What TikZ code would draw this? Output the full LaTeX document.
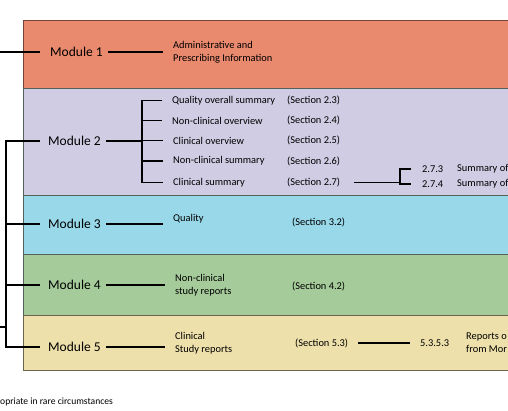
\documentclass[tikz,border=0pt]{standalone}
\usepackage{fontspec}
\setmainfont{Carlito}
\usetikzlibrary{positioning,calc}
\definecolor{bandorange}{HTML}{E9896E}
\definecolor{bandlilac}{HTML}{CFCCE3}
\definecolor{bandblue}{HTML}{98D8E9}
\definecolor{bandgreen}{HTML}{A5CB9A}
\definecolor{bandsand}{HTML}{EEE0AB}
\definecolor{edgegray}{HTML}{56605A}

\begin{document}
\begin{tikzpicture}[x=1pt, y=-1pt,
  modtext/.style={font=\fontsize{13.5}{16}\selectfont, anchor=west, inner sep=0pt},
  subtext/.style={font=\fontsize{10.4}{13}\selectfont, anchor=west, align=left, inner sep=0pt},
  link/.style={line width=1.05pt, black}]
\useasboundingbox (0,0) rectangle (508,411);
\clip (0,0) rectangle (508,411);
% module bands
\filldraw[fill=bandorange, draw=bandorange!50!black] (23,20) rectangle (515,88);
\filldraw[fill=bandlilac, draw=edgegray] (23,88) rectangle (515,195);
\filldraw[fill=bandblue, draw=edgegray] (23,195) rectangle (515,254);
\filldraw[fill=bandgreen, draw=edgegray] (23,254) rectangle (515,315);
\filldraw[fill=bandsand, draw=bandsand!45!black] (23,315) rectangle (515,370);
% module names
\node[modtext] (m1) at (50,52) {Module 1};
\node[modtext] (m2) at (48,141) {Module 2};
\node[modtext] (m3) at (48,224) {Module 3};
\node[modtext] (m4) at (48,285) {Module 4};
\node[modtext] (m5) at (48,347) {Module 5};
% contents
\node[subtext] (t1) at (173,52) {Administrative and\\Prescribing Information};
\node[subtext] (q1) at (172,100.5) {Quality overall summary};
\node[subtext] (q2) at (172,120.5) {Non-clinical overview};
\node[subtext] (q3) at (173,140.5) {Clinical overview};
\node[subtext] (q4) at (173,161) {Non-clinical summary};
\node[subtext] (q5) at (173,182.5) {Clinical summary};
\node[subtext] (sec23) at (287,100.5) {(Section 2.3)};
\node[subtext] (sec24) at (287,120.5) {(Section 2.4)};
\node[subtext] (sec25) at (287,140.5) {(Section 2.5)};
\node[subtext] (sec26) at (287,161) {(Section 2.6)};
\node[subtext] (sec27) at (287,182.5) {(Section 2.7)};
\node[subtext] (u1) at (422,169) {2.7.3};
\node[subtext] (u2) at (422,184) {2.7.4};
\node[subtext] (v1) at (457,169) {Summary of};
\node[subtext] (v2) at (457,184) {Summary of};
\node[subtext] (t3) at (173,219) {Quality};
\node[subtext] (sec32) at (292,222) {(Section 3.2)};
\node[subtext] (t4) at (175,285.5) {Non-clinical\\study reports};
\node[subtext] (sec42) at (292,286) {(Section 4.2)};
\node[subtext] (t5) at (175,343.5) {Clinical\\Study reports};
\node[subtext] (sec53) at (295,343) {(Section 5.3)};
\node[subtext] (w1) at (420,343) {5.3.5.3};
\node[subtext] (w2) at (466,343) {Reports o\\from Mor};
\node[font=\fontsize{9.6}{11}\selectfont, anchor=west, inner sep=0pt] (note) at (0,402) {opriate in rare circumstances};
% connectors on the left
\coordinate (trunk) at (6,141);
\coordinate (edge1) at (0,52);
\coordinate (edge5) at (0,327);
\draw[link] (edge1) -- ([xshift=-10pt]m1.west);
\draw[link] ([xshift=-8pt]m2.west) -- (m2.west -| trunk) |- ([xshift=-8pt]m5.west);
\foreach \n in {3,4} \draw[link] (m\n.west -| trunk) -- ([xshift=-8pt]m\n.west);
\draw[link] (edge5) -- (edge5 -| trunk);
% module to contents
\foreach \n in {1,3,4,5} \draw[link, shorten >=10pt] ([xshift=5pt]m\n.east) -- (m\n.east -| t\n.west);
\coordinate (b2) at (142,141);
\draw[link] ([xshift=5pt]m2.east) -- (m2.east -| b2);
\draw[link] ([xshift=-10pt]q1.west) -| (b2) |- ([xshift=-10pt]q5.west);
\foreach \n in {2,3,4} \draw[link, shorten >=10pt] (q\n.west -| b2) -- (q\n.west);
% further breakdown
\coordinate (b27) at (400,176);
\draw[link] ([xshift=14pt]sec27.east) -- (sec27.east -| b27);
\draw[link] ([xshift=-11pt]u1.west) -| (b27) |- ([xshift=-11pt]u2.west);
\draw[link, shorten >=10pt] ([xshift=10pt]sec53.east) -- (sec53.east -| w1.west);
\end{tikzpicture}
\end{document}
